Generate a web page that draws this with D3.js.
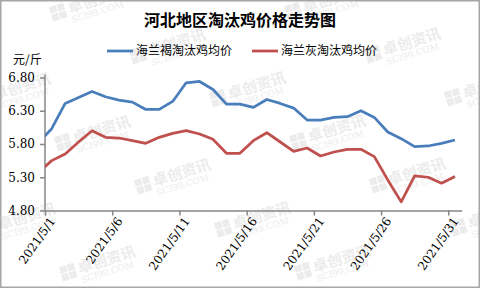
<!DOCTYPE html>
<html>
<head>
<meta charset="utf-8">
<script src="https://cdn.jsdelivr.net/npm/d3@7"></script>
<style>
  body { margin: 0; background: #fff; }
  svg { display: block; }
</style>
</head>
<body>
<svg id="chart" width="480" height="288"></svg>
<script>
// first entry (4/30) sits left of the axis and is clipped, like the original
var dates = ["2021/4/30", "2021/5/1", "2021/5/2", "2021/5/3", "2021/5/4", "2021/5/5", "2021/5/6", "2021/5/7",
    "2021/5/8", "2021/5/9", "2021/5/10", "2021/5/11", "2021/5/12", "2021/5/13", "2021/5/14", "2021/5/15",
    "2021/5/16", "2021/5/17", "2021/5/18", "2021/5/19", "2021/5/20", "2021/5/21", "2021/5/22", "2021/5/23",
    "2021/5/24", "2021/5/25", "2021/5/26", "2021/5/27", "2021/5/28", "2021/5/29", "2021/5/30", "2021/5/31"];
var brownHen = [5.82, 6.03, 6.41, 6.50, 6.59, 6.51, 6.46, 6.43, 6.32, 6.32, 6.44, 6.72, 6.74, 6.62, 6.40, 6.40,
    6.35, 6.47, 6.41, 6.34, 6.16, 6.16, 6.20, 6.21, 6.30, 6.20, 5.98, 5.88, 5.76, 5.77, 5.81, 5.86];
var greyHen = [5.37, 5.55, 5.65, 5.83, 6.00, 5.90, 5.89, 5.85, 5.81, 5.90, 5.96, 6.00, 5.95, 5.87, 5.66, 5.66,
    5.85, 5.97, 5.83, 5.69, 5.74, 5.62, 5.68, 5.72, 5.72, 5.61, 5.26, 4.93, 5.32, 5.30, 5.21, 5.31];
var seriesNames = ["海兰褐淘汰鸡均价", "海兰灰淘汰鸡均价"];
var xTickLabels = ["2021/5/1", "2021/5/6", "2021/5/11", "2021/5/16", "2021/5/21", "2021/5/26", "2021/5/31"];
var yTicks = [4.80, 5.30, 5.80, 6.30, 6.80];

var svg = d3.select("#chart");
var width = 480, height = 288;
var plotLeft = 45, plotRight = 461.7, plotTop = 77.5, plotBottom = 210.5;
var colors = ["#4a7ebb", "#c0504d"];
var axisColor = "#868686";

var parse = d3.timeParse("%Y/%m/%d");

// watermark tiles
var wm = svg.append("g").attr("fill", "#ececec");
for (var j = -2; j <= 3; j++) {
    for (var i = -3; i <= 5; i++) {
        var cx = 95 + i * 80 + j * 155, cy = 135 + i * 43 - j * 44;
        if (cx < -30 || cx > 510 || cy < -20 || cy > 300) continue;
        var g = wm.append("g").attr("transform", "translate(" + cx + "," + cy + ") rotate(-17)");
        [[0, 0], [8, 0], [0, 8], [8, 8]].forEach(function (p) {
            g.append("rect").attr("x", -40 + p[0]).attr("y", -10 + p[1]).attr("width", 7).attr("height", 7);
        });
        g.append("text").attr("x", -22).attr("y", 2)
            .style("font-family", "Noto Sans CJK SC").style("font-weight", "bold").style("font-size", "15px")
            .text("卓创资讯");
        g.append("text").attr("x", -22).attr("y", 12)
            .style("font-family", "DejaVu Serif").style("font-size", "9px")
            .text("SCI99.COM");
    }
}

svg.append("rect")
    .attr("x", 0.75).attr("y", 0.75).attr("width", width - 1.5).attr("height", height - 1.5)
    .attr("fill", "none").attr("stroke", "#a6a6a6").attr("stroke-width", 1.5);

svg.append("text")
    .attr("x", 240).attr("y", 26)
    .attr("text-anchor", "middle")
    .style("font-family", "Noto Sans CJK SC")
    .style("font-size", "16px")
    .style("font-weight", "bold")
    .text("河北地区淘汰鸡价格走势图");

var x = d3.scaleTime()
    .domain([parse("2021/5/1"), parse("2021/6/1")])
    .range([plotLeft, plotRight]);

var y = d3.scaleLinear()
    .domain([4.8, 6.8])
    .range([plotBottom, plotTop]);

function mid(s) {
    return d3.timeHour.offset(parse(s), 12);
}

// axes
var yAxis = svg.append("g")
    .attr("transform", "translate(" + plotLeft + ",0)")
    .call(d3.axisLeft(y).tickValues(yTicks).tickSize(5).tickPadding(5).tickFormat(d3.format(".2f")));
yAxis.select(".domain").attr("d", "M0," + (plotTop - 3) + "V" + plotBottom);

var xAxis = svg.append("g")
    .attr("transform", "translate(0," + plotBottom + ")")
    .call(d3.axisBottom(x).tickValues(xTickLabels.map(parse)).tickSize(5).tickSizeOuter(0)
        .tickFormat((d, i) => xTickLabels[i]));

svg.selectAll(".domain, .tick line").attr("stroke", axisColor).attr("stroke-width", 1.5);
yAxis.selectAll("text")
    .attr("fill", "#000")
    .style("font-family", "DejaVu Serif")
    .style("font-size", "12px");
xAxis.selectAll("text")
    .attr("fill", "#000")
    .attr("text-anchor", "end")
    .attr("dy", "0.35em")
    .attr("transform", "translate(7,8) rotate(-55)")
    .attr("x", 0).attr("y", 0)
    .style("font-family", "DejaVu Serif")
    .style("font-size", "12px");

svg.append("text")
    .attr("x", 13).attr("y", 64)
    .style("font-family", "Noto Sans CJK SC")
    .style("font-size", "12px")
    .text("元/斤");

svg.append("clipPath").attr("id", "plotClip")
    .append("rect").attr("x", plotLeft).attr("y", 0).attr("width", plotRight - plotLeft).attr("height", height);

var line = d3.line()
    .x((d, i) => x(mid(dates[i])))
    .y(d => y(d));

[brownHen, greyHen].forEach(function (vals, k) {
    svg.append("path")
        .datum(vals)
        .attr("clip-path", "url(#plotClip)")
        .attr("fill", "none")
        .attr("stroke", colors[k])
        .attr("stroke-width", 2.75)
        .attr("stroke-linejoin", "round")
        .attr("d", line);
});

// legend
var legendX = [107, 252];
seriesNames.forEach(function (name, k) {
    var lg = svg.append("g").attr("transform", "translate(" + legendX[k] + ",51)");
    lg.append("line").attr("x1", 0).attr("x2", 26).attr("y1", 0).attr("y2", 0)
        .attr("stroke", colors[k]).attr("stroke-width", 2.75);
    lg.append("text").attr("x", 29).attr("y", 0).attr("dy", "0.35em")
        .style("font-family", "Noto Sans CJK SC").style("font-size", "12px")
        .text(name);
});
</script>
</body>
</html>
